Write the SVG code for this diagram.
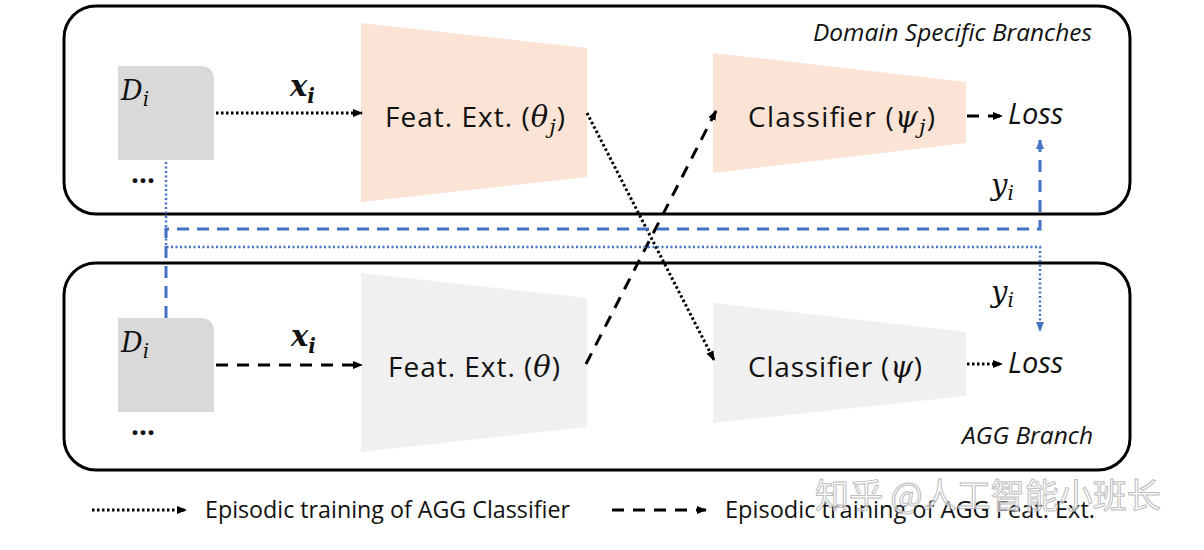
<svg xmlns="http://www.w3.org/2000/svg" width="1204" height="550" viewBox="0 0 1204 550">
<defs>
<marker id="ah" viewBox="0 0 10 10" refX="9" refY="5" markerWidth="10" markerHeight="10" markerUnits="userSpaceOnUse" orient="auto"><path d="M0,1 L10,5 L0,9 Z" fill="#000"/></marker>
<marker id="ahb" viewBox="0 0 10 10" refX="9" refY="5" markerWidth="10" markerHeight="10" markerUnits="userSpaceOnUse" orient="auto"><path d="M0,1 L10,5 L0,9 Z" fill="#4472c4"/></marker>
<style>
.frame{fill:none;stroke:#000;stroke-width:3}
.data{fill:#d9d9d9}
.peach{fill:#fbe3d5}
.grey{fill:#f0f0f0}
.lbl{font-family:"Open Sans","Liberation Sans",sans-serif;font-size:28px;fill:#111}
.m{font-family:"DejaVu Serif","Liberation Serif",serif;font-style:italic;fill:#111}
.it{font-family:"Open Sans","Liberation Sans",sans-serif;font-style:italic;fill:#111}
.dot{fill:none;stroke:#000;stroke-width:3;stroke-dasharray:2.5 2.5}
.dash{fill:none;stroke:#000;stroke-width:3;stroke-dasharray:12 9}
.bdot{fill:none;stroke:#4472c4;stroke-width:2.5;stroke-dasharray:2 2.5}
.bdash{fill:none;stroke:#4472c4;stroke-width:3;stroke-dasharray:12 8}
.leg{font-family:"Open Sans","Liberation Sans",sans-serif;font-size:23px;fill:#111}
</style>
</defs>
<rect width="1204" height="550" fill="#fff"/>

<g id="domain-branches">
<rect class="frame" x="64" y="6" width="1066" height="208" rx="32"/>
<text class="it" x="1092" y="41" font-size="23" text-anchor="end" textLength="279" lengthAdjust="spacingAndGlyphs">Domain Specific Branches</text>
</g>
<g id="agg-branch">
<rect class="frame" x="64" y="263" width="1066" height="207" rx="32"/>
<text class="it" x="1093" y="444" font-size="23" text-anchor="end" textLength="131" lengthAdjust="spacingAndGlyphs">AGG Branch</text>
</g>

<g id="data-top">
<path class="data" d="M118,66 H200 Q214,66 214,80 V160 H118 Z"/>
<text class="m" x="121" y="100" font-size="27">D<tspan font-size="20" dy="6">i</tspan></text>
<text class="lbl" x="131" y="183" font-size="22" font-weight="bold">...</text>
</g>
<g id="feat-top">
<polygon class="peach" points="361,23 587,48 587,177 361,202"/>
<text class="lbl" x="385" y="127" textLength="180" lengthAdjust="spacing">Feat. Ext. (<tspan class="m" font-size="29">θ</tspan><tspan class="m" font-size="21" dy="7">j</tspan><tspan dy="-7">)</tspan></text>
</g>
<g id="cls-top">
<polygon class="peach" points="713,53 966,82 966,143 713,173"/>
<text class="lbl" x="748" y="127" textLength="187" lengthAdjust="spacing">Classifier (<tspan class="m" font-size="29">ψ</tspan><tspan class="m" font-size="21" dy="7">j</tspan><tspan dy="-7">)</tspan></text>
</g>
<g id="loss-top">
<text class="it" x="1008" y="124" font-size="29">Loss</text>
<text class="m" x="991" y="195" font-size="29">y<tspan font-size="20" dy="5">i</tspan></text>
</g>

<g id="data-bottom">
<path class="data" d="M118,318 H200 Q214,318 214,332 V412 H118 Z"/>
<text class="m" x="121" y="352" font-size="27">D<tspan font-size="20" dy="6">i</tspan></text>
<text class="lbl" x="131" y="435" font-size="22" font-weight="bold">...</text>
</g>
<g id="feat-bottom">
<polygon class="grey" points="361,273 587,298 587,427 361,452"/>
<text class="lbl" x="388" y="377" textLength="172" lengthAdjust="spacing">Feat. Ext. (<tspan class="m" font-size="29">θ</tspan>)</text>
</g>
<g id="cls-bottom">
<polygon class="grey" points="713,303 966,332 966,396 713,423"/>
<text class="lbl" x="748" y="377" textLength="174" lengthAdjust="spacing">Classifier (<tspan class="m" font-size="29">ψ</tspan>)</text>
</g>
<g id="loss-bottom">
<text class="it" x="1008" y="373" font-size="29">Loss</text>
<text class="m" x="991" y="302" font-size="29">y<tspan font-size="20" dy="5">i</tspan></text>
</g>

<g id="connectors">
<text class="m" x="290" y="96" font-size="29" font-weight="bold">x<tspan font-size="20" dy="7">i</tspan></text>
<line class="dot" x1="216" y1="113" x2="362" y2="113" marker-end="url(#ah)"/>
<text class="m" x="291" y="346" font-size="29" font-weight="bold">x<tspan font-size="20" dy="7">i</tspan></text>
<line class="dash" x1="216" y1="365" x2="362" y2="365" marker-end="url(#ah)"/>
<line class="dot" x1="587" y1="113" x2="714" y2="360" marker-end="url(#ah)"/>
<line class="dash" x1="586" y1="364" x2="716" y2="111" marker-end="url(#ah)"/>
<line class="dash" x1="967" y1="116" x2="1002" y2="116" stroke-dasharray="12 7" marker-end="url(#ah)"/>
<line class="dot" x1="967" y1="364" x2="1002" y2="364" marker-end="url(#ah)"/>
<path class="bdash" d="M166,318 V229 H1040 V140" marker-end="url(#ahb)"/>
<path class="bdot" d="M166,162 V247 H1040 V331" marker-end="url(#ahb)"/>
</g>

<g id="legend">
<line class="dot" x1="92" y1="510" x2="186" y2="510" stroke-width="2.5" marker-end="url(#ah)"/>
<text class="leg" x="205" y="518" textLength="365" lengthAdjust="spacingAndGlyphs">Episodic training of AGG Classifier</text>
<line class="dash" x1="612" y1="510" x2="706" y2="510" stroke-dasharray="12 9" marker-end="url(#ah)"/>
<text class="leg" x="725" y="518" textLength="370" lengthAdjust="spacingAndGlyphs">Episodic training of AGG Feat. Ext.</text>
</g>
<text x="815" y="508" font-family="'Noto Sans CJK SC',sans-serif" font-size="34" fill="#fff" fill-opacity="0.6" stroke="#bdbdbd" stroke-width="1">知乎 @人工智能小班长</text>
</svg>
